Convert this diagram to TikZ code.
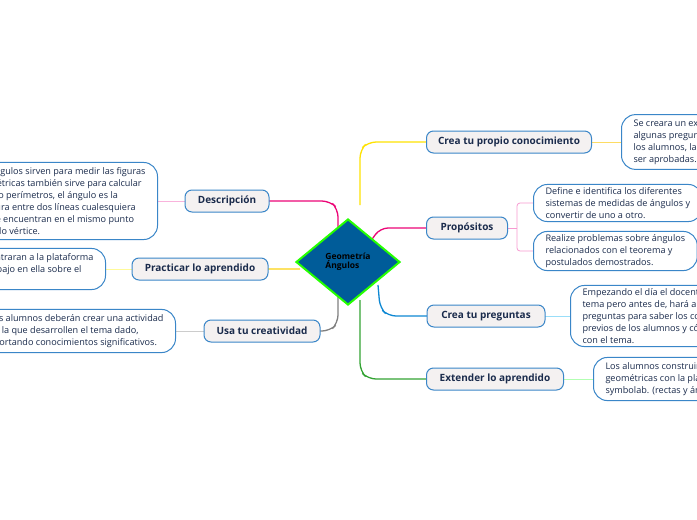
\documentclass[tikz,border=0pt]{standalone}
\usepackage{fontspec}
\setmainfont{Open Sans}
\usetikzlibrary{shapes.geometric}
\definecolor{bord}{HTML}{3A86C8}
\definecolor{topf}{HTML}{F4F1F1}
\definecolor{ink}{HTML}{1A2B4C}
\tikzset{x=1pt,y=-1pt,
 topic/.style={draw=bord,line width=1pt,fill=topf,rounded corners=7pt,minimum height=22pt,font=\fontsize{10}{11}\selectfont\bfseries,text=ink,inner xsep=4pt},
 detail/.style={draw=bord,line width=1pt,fill=white,rounded corners=14pt,font=\fontsize{9.1}{12}\selectfont,text=ink,align=left,inner xsep=12pt,inner ysep=5pt},
 br/.style={line width=1.3pt,rounded corners=8pt}}
\begin{document}
\begin{tikzpicture}
\useasboundingbox (0,0) rectangle (697,520);
\clip (0,0) rectangle (697,520);
\fill[white] (0,0) rectangle (697,520);
% connectors
\draw[br,draw=yellow!85!orange] (360,205) -- (360,150) -- (368,142) -- (427,142);
\draw[br,draw=magenta!80!red] (368,245) -- (380,228) -- (427,228);
\draw[br,draw=cyan!70!blue] (378,285) -- (380,308) -- (388,316) -- (427,316);
\draw[br,draw=green!55!black!80] (360,300) -- (360,371) -- (368,379) -- (427,379);
\draw[br,draw=magenta!80!red] (338,240) -- (338,209) -- (330,201) -- (269,201);
\draw[br,draw=yellow!70!orange!60] (300,269) -- (268,269);
\draw[br,draw=gray] (338,285) -- (338,323) -- (330,331) -- (320,331);
\draw[line width=0.8pt,draw=yellow!60!orange!60] (592,142) -- (621,142);
\draw[line width=0.8pt,draw=magenta!40] (508,228) -- (517,228);
\draw[line width=0.8pt,draw=magenta!40,rounded corners=3pt] (533,203) -- (517,203) -- (517,251) -- (533,251);
\draw[line width=0.8pt,draw=cyan!40] (545,316) -- (570,316);
\draw[line width=0.8pt,draw=green!30] (564,379) -- (593,379);
\draw[line width=0.8pt,draw=magenta!30] (185,201) -- (158,201);
\draw[line width=0.8pt,draw=yellow!40] (132,269) -- (106,269);
\draw[line width=0.8pt,draw=gray!40] (204,331) -- (176,331);
% center
\node[diamond,draw=green!80!lime,line width=2pt,fill=blue!40!cyan!60!black,minimum width=104pt,minimum height=86pt,inner sep=0pt,aspect=1.2,font=\fontsize{8.5}{9.5}\selectfont\bfseries,align=left] (c) at (348,262) {Geometría\\Ángulos};
% topics
\node[topic,minimum width=165pt] (t1) at (509,142) {Crea tu propio conocimiento};
\node[topic,minimum width=81pt] (t2) at (467,228) {Propósitos};
\node[topic,minimum width=118pt] (t3) at (486,316) {Crea tu preguntas};
\node[topic,minimum width=137pt] (t4) at (495,379) {Extender lo aprendido};
\node[topic,minimum width=84pt] (t5) at (227,201) {Descripción};
\node[topic,minimum width=136pt] (t6) at (200,269) {Practicar lo aprendido};
\node[topic,minimum width=116pt] (t7) at (262,331) {Usa tu creatividad};
% details
\node[detail,anchor=west] (d1) at (621,142) {Se creara un examen con\\algunas preguntas para\\los alumnos, las cuales deben\\ser aprobadas.};
\node[detail,anchor=west,inner ysep=3pt] (d2) at (533,203) {Define e identifica los diferentes\\sistemas de medidas de ángulos y\\convertir de uno a otro.};
\node[detail,anchor=west,inner ysep=3pt] (d3) at (533,251) {Realize problemas sobre ángulos\\relacionados con el teorema y\\postulados demostrados.};
\node[detail,anchor=west,inner ysep=3pt] (d4) at (570,316) {Empezando el día el docente dará el\\tema pero antes de, hará algunas\\preguntas para saber los conocimientos\\previos de los alumnos y cómo se relacionan\\con el tema.};
\node[detail,anchor=west] (d5) at (593,379) {Los alumnos construirán figuras\\geométricas con la plataforma\\symbolab. (rectas y ángulos)};
\node[detail,anchor=east] (d6) at (158,201) {Los ángulos sirven para medir las figuras\\geométricas también sirve para calcular\\áreas o perímetros, el ángulo es la\\abertura entre dos líneas cualesquiera\\que se encuentran en el mismo punto\\llamado vértice.};
\node[detail,anchor=east] (d7) at (106,269) {Los alumnos entraran a la plataforma\\symbolab y trabajo en ella sobre el\\tema.};
\node[detail,anchor=east] (d8) at (176,331) {Los alumnos deberán crear una actividad\\en la que desarrollen el tema dado,\\aportando conocimientos significativos.};
\end{tikzpicture}
\end{document}
